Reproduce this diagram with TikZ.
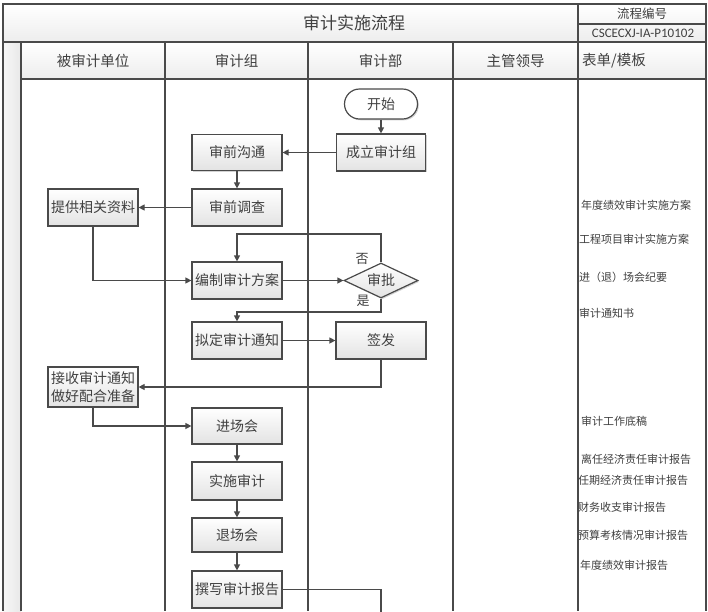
\documentclass[tikz,border=0pt]{standalone}
\usepackage{fontspec}
\newfontfamily\cjk{Noto Sans CJK SC}
\newfontfamily\calib{Carlito}
\usetikzlibrary{arrows.meta,shapes.geometric,shadows}
\definecolor{linec}{HTML}{4A4A4A}
\definecolor{textc}{HTML}{404040}
\tikzset{
 base/.style={draw=linec, line width=1.2pt, text=textc, inner sep=0pt,
   font=\cjk\fontsize{14}{17}\selectfont, top color=white, bottom color=gray!22,
   drop shadow={shadow xshift=1.3pt, shadow yshift=-1.3pt, opacity=0.35, fill=gray}},
 proc/.style={base, rectangle, minimum width=90pt, minimum height=37pt},
 term/.style={base, rectangle, rounded corners=15pt, minimum width=73pt, minimum height=30pt, bottom color=white},
 dec/.style={base, diamond, minimum width=74pt, minimum height=35pt, aspect=2},
 conn/.style={draw=linec, line width=1.2pt, -{Triangle[length=6pt,width=6pt]}},
 plain/.style={draw=linec, line width=1.2pt},
 frame/.style={draw=linec, line width=1.3pt},
 form/.style={anchor=west, inner sep=0pt, text=textc, font=\cjk\fontsize{11}{13}\selectfont},
 hdr/.style={inner sep=0pt, text=textc, font=\cjk\fontsize{14.5}{17}\selectfont},
 lbl/.style={inner sep=0pt, text=textc, font=\cjk\fontsize{13}{15}\selectfont},
}
\begin{document}
\begin{tikzpicture}[x=1pt,y=-1pt]
\useasboundingbox (0,0) rectangle (708,611);
\clip (0,0) rectangle (708,611);
% fills
\shade[top color=white, bottom color=gray!14] (3,4) rectangle (706,42);
\shade[top color=white, bottom color=gray!14] (3,42) rectangle (706,79);
\shade[left color=gray!6, right color=gray!18] (3,42) rectangle (21,611);
\fill[white] (21,79) rectangle (706,611);
% frame lines
\draw[frame] (3,611) -- (3,4) -- (706,4) -- (706,611);
\draw[frame] (3,42) -- (706,42);
\draw[frame] (21,79) -- (706,79);
\draw[frame] (578,4) -- (578,611);
\draw[frame] (578,24) -- (706,24);
\draw[frame] (21,42) -- (21,611);
\draw[frame] (165,42) -- (165,611);
\draw[frame] (308,42) -- (308,611);
\draw[frame] (453,42) -- (453,611);
% header texts
\node[inner sep=0pt, text=textc, font=\cjk\fontsize{17}{20}\selectfont] (title) at (354,23) {审计实施流程};
\node[inner sep=0pt, text=textc, font=\cjk\fontsize{12.5}{14}\selectfont] (lcbh) at (642,14) {流程编号};
\node[inner sep=0pt, text=textc, font=\calib\fontsize{13}{15}\selectfont] (code) at (643,33) {CSCECXJ-IA-P10102};
\node[hdr] (h1) at (93,61) {被审计单位};
\node[hdr] (h2) at (236.5,61) {审计组};
\node[hdr] (h3) at (380.5,61) {审计部};
\node[hdr] (h4) at (515.5,61) {主管领导};
\node[hdr, anchor=west] (h5) at (582,61) {表单/模板};
% form texts
\node[form] (f1) at (581,205) {年度绩效审计实施方案};
\node[form] (f2) at (579,239) {工程项目审计实施方案};
\node[form] (f3) at (579,277) {进（退）场会纪要};
\node[form] (f4) at (579,313) {审计通知书};
\node[form] (f5) at (581,421) {审计工作底稿};
\node[form] (f6) at (581,459) {离任经济责任审计报告};
\node[form] (f7) at (578,480) {任期经济责任审计报告};
\node[form] (f8) at (578,507) {财务收支审计报告};
\node[form] (f9) at (578,535) {预算考核情况审计报告};
\node[form] (f10) at (580,565) {年度绩效审计报告};
% flow nodes
\node[term] (start) at (381,104) {开始};
\node[proc, minimum width=89pt] (chengli) at (381,152.5) {成立审计组};
\node[proc, minimum height=36pt] (goutong) at (237,152.5) {审前沟通};
\node[proc] (diaocha) at (237,207.5) {审前调查};
\node[proc] (tigong) at (93,207.5) {提供相关资料};
\node[proc] (bianzhi) at (237,280.5) {编制审计方案};
\node[dec] (shenpi) at (381,280.5) {审批};
\node[proc] (niding) at (237,340.5) {拟定审计通知};
\node[proc] (qianfa) at (381,340.5) {签发};
\node[proc, minimum height=40pt, align=center, font=\cjk\fontsize{14}{18}\selectfont] (jieshou) at (93,387) {接收审计通知\\做好配合准备};
\node[proc, minimum height=36pt] (jinchang) at (237,426) {进场会};
\node[proc, minimum height=38pt] (shishi) at (237,481) {实施审计};
\node[proc, minimum height=34pt] (tuichang) at (237,535) {退场会};
\node[proc] (zhuanxie) at (237,589.5) {撰写审计报告};
\node[lbl] (fou) at (362,259) {否};
\node[lbl] (shi) at (363,301) {是};
\coordinate (loopa) at (0,234);
\coordinate (loopb) at (0,312);
\coordinate (bottomend) at (381,615);
% connectors
\draw[conn] (start) -- (chengli);
\draw[conn] (chengli) -- (goutong);
\draw[conn] (goutong) -- (diaocha);
\draw[conn] (diaocha) -- (tigong);
\draw[conn] (tigong.south) |- (bianzhi.west);
\draw[conn] (bianzhi) -- (shenpi);
\draw[conn] (shenpi.north) |- (bianzhi.north |- loopa) -- (bianzhi.north);
\draw[conn] (shenpi.south) |- (niding.north |- loopb) -- (niding.north);
\draw[conn] (niding) -- (qianfa);
\draw[conn] (qianfa.south) |- (jieshou.east);
\draw[conn] (jieshou.south) |- (jinchang.west);
\draw[conn] (jinchang) -- (shishi);
\draw[conn] (shishi) -- (tuichang);
\draw[conn] (tuichang) -- (zhuanxie);
\draw[plain] (zhuanxie.east) -| (bottomend);
\end{tikzpicture}
\end{document}
